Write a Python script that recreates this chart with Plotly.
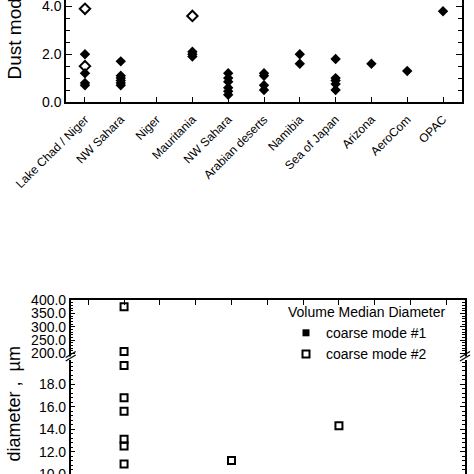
import plotly.graph_objects as go

# ==========================================
# data
# ==========================================
sites = ['Lake Chad / Niger', 'NW Sahara', 'Niger', 'Mauritania', 'NW Sahara',
         'Arabian deserts', 'Namibia', 'Sea of Japan', 'Arizona', 'AeroCom', 'OPAC']

# top panel: dust mode values per site (filled = mode #1, open = mode #2)
mode1_values = [[2.0, 1.2, 0.8, 0.7],
                [1.7, 1.1, 1.0, 0.9, 0.8, 0.7],
                [],
                [2.1, 2.0, 1.9],
                [1.2, 1.0, 0.85, 0.6, 0.45, 0.3],
                [1.2, 1.1, 0.7, 0.5],
                [2.0, 1.6],
                [1.8, 1.0, 0.9, 0.75, 0.5],
                [1.6],
                [1.3],
                [3.8]]
mode2_values = [[3.9, 1.5], [], [], [3.6], [], [], [], [], [], [], []]

# bottom panel: volume median diameter (um) per site
vmd_mode1 = [[] for _ in sites]
vmd_mode2 = [[], [375.0, 207.0, 19.7, 16.8, 15.6, 13.1, 12.5, 10.9],
             [], [], [11.2], [], [], [14.3], [], [], []]

# broken axis limits
BREAK_LOW = 20.18
BREAK_HIGH = 186.3

H = 474
FONT = 'Liberation Sans, Arial, sans-serif'


def py(px):
    # pixel row -> paper y
    return 1 - px / H


def flatten(values, keep):
    xs, ys = [], []
    for i, vals in enumerate(values):
        for v in vals:
            if keep(v):
                xs.append(i)
                ys.append(v)
    return xs, ys


fig = go.Figure()

# ---- top panel ----
x1, y1 = flatten(mode1_values, lambda v: True)
fig.add_trace(go.Scatter(x=x1, y=y1, mode='markers', xaxis='x', yaxis='y',
                         marker=dict(symbol='diamond', size=8, color='black'),
                         showlegend=False, cliponaxis=False))
x2, y2 = flatten(mode2_values, lambda v: True)
fig.add_trace(go.Scatter(x=x2, y=y2, mode='markers', xaxis='x', yaxis='y',
                         marker=dict(symbol='diamond-open', size=8, color='black',
                                     line=dict(width=2)),
                         showlegend=False, cliponaxis=False))

# ---- bottom panel ----
bx1, by1 = flatten(vmd_mode1, lambda v: True)
fig.add_trace(go.Scatter(x=bx1 or [None], y=by1 or [None], mode='markers',
                         xaxis='x2', yaxis='y2', name='coarse mode #1',
                         marker=dict(symbol='square', size=7, color='black')))
hx, hy = flatten(vmd_mode2, lambda v: v >= BREAK_HIGH)
fig.add_trace(go.Scatter(x=hx, y=hy, mode='markers', xaxis='x2', yaxis='y2',
                         name='coarse mode #2', legendgroup='m2', cliponaxis=False,
                         marker=dict(symbol='square-open', size=7, color='black',
                                     line=dict(width=2))))
lx, ly = flatten(vmd_mode2, lambda v: v <= BREAK_LOW)
fig.add_trace(go.Scatter(x=lx, y=ly, mode='markers', xaxis='x2', yaxis='y3',
                         name='coarse mode #2', legendgroup='m2', showlegend=False,
                         cliponaxis=False,
                         marker=dict(symbol='square-open', size=7, color='black',
                                     line=dict(width=2))))

axis_common = dict(showline=True, linecolor='black', linewidth=1.5, showgrid=False,
                   zeroline=False, ticks='inside', tickcolor='black', tickwidth=1,
                   automargin=False, ticklabeloverflow='allow',
                   tickfont=dict(family=FONT, size=14, color='black'))

fig.update_layout(
    width=H, height=H,
    margin=dict(l=0, r=0, t=0, b=0),
    paper_bgcolor='white', plot_bgcolor='white',
    font=dict(family=FONT, color='black'),
    hovermode=False,
    xaxis=dict(axis_common, domain=[66 / H, 462 / H], range=[-0.53, 10.53],
               anchor='y', tickvals=list(range(len(sites))), ticktext=sites,
               tickangle=-45, ticklen=5, ticklabelstandoff=4,
               tickfont=dict(family=FONT, size=12, color='black')),
    yaxis=dict(axis_common, domain=[py(102), 1], range=[0, 102 / 23.9], anchor='x',
               mirror='ticks', tickvals=[0, 2, 4], ticktext=['0.0', '2.0', '4.0'],
               ticklen=6, minor=dict(dtick=0.5, ticks='inside', ticklen=4, tickcolor='black')),
    xaxis2=dict(axis_common, domain=[70.7 / H, 465 / H], range=[-0.49, 10.52],
                anchor='y2', side='top', tickvals=list(range(len(sites))),
                showticklabels=False, ticklen=5),
    yaxis2=dict(axis_common, domain=[py(357), py(300)], range=[BREAK_HIGH, 400],
                anchor='x2', mirror='ticks', tickvals=[200, 250, 300, 350, 400],
                ticktext=['200.0', '250.0', '300.0', '350.0', '400.0'], ticklen=5,
                minor=dict(dtick=10, ticks='inside', ticklen=3, tickcolor='black')),
    yaxis3=dict(axis_common, domain=[0, py(360)], range=[10.0, BREAK_LOW],
                anchor='x2', mirror='ticks', tickvals=[10, 12, 14, 16, 18],
                ticktext=['10.0', '12.0', '14.0', '16.0', '18.0'], ticklen=5,
                minor=dict(dtick=0.4, ticks='inside', ticklen=3, tickcolor='black')),
    legend=dict(x=286 / H, y=py(299), xanchor='left', yanchor='top',
                bgcolor='rgba(0,0,0,0)', font=dict(family=FONT, size=14, color='black'),
                title=dict(text='Volume Median Diameter', font=dict(family=FONT, size=14)),
                itemwidth=30, tracegroupgap=0),
    annotations=[
        dict(text='Dust mode radius ,  µm', textangle=-90, x=14 / H, y=py(82),
             xref='paper', yref='paper', xanchor='center', yanchor='bottom',
             showarrow=False, font=dict(family=FONT, size=19, color='black')),
        dict(text='diameter ,  µm', textangle=-90, x=13 / H, y=py(345),
             xref='paper', yref='paper', xanchor='center', yanchor='top',
             showarrow=False, font=dict(family=FONT, size=18, color='black')),
    ],
)

# axis break marks on both sides of the lower panel
shapes = []
for xp in (70.7, 465):
    shapes.append(dict(type='rect', xref='paper', yref='paper',
                       x0=(xp - 4) / H, x1=(xp + 4) / H, y0=py(360), y1=py(356.5),
                       fillcolor='white', line=dict(width=0)))
    for dy in (0, 3.5):
        shapes.append(dict(type='line', xref='paper', yref='paper',
                           x0=(xp - 5) / H, y0=py(359 + dy - 1.5),
                           x1=(xp + 5) / H, y1=py(353 + dy - 1.5),
                           line=dict(color='black', width=1.2)))
fig.update_layout(shapes=shapes)

# the page body has a default 8px margin; drop it so the figure fills the window
fig.write_html("out.html", config={'displayModeBar': False},
               post_script="document.body.style.margin = '0';")
